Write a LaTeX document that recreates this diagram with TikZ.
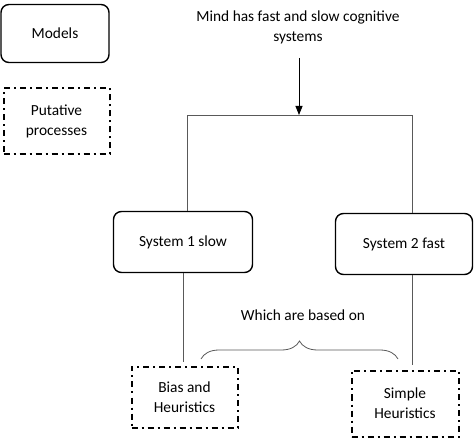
\documentclass[tikz,border=0pt]{standalone}
\usepackage{fontspec}
\setmainfont{Carlito}
\usetikzlibrary{arrows.meta,decorations.pathreplacing}
\tikzset{
  modelbox/.style={draw, line width=1.4pt, rounded corners=8pt, align=center},
  processbox/.style={draw, line width=2pt, dash pattern=on 6pt off 4pt on 2pt off 4pt, align=center},
  link/.style={draw=black!65, line width=0.8pt}
}
\begin{document}
\begin{tikzpicture}[x=1pt,y=-1pt,font=\fontsize{15.4}{20}\selectfont]
            \useasboundingbox (0,0) rectangle (474,438);
            % legend
            \node[modelbox, minimum width=108pt, minimum height=58pt] (models) at (55,33.5) {Models};
            \node[processbox, minimum width=106pt, minimum height=66pt] (putative) at (56.5,121.5) {Putative\\processes};
            % top statement
            \node[align=center] (mind) at (298,27) {Mind has fast and slow cognitive\\systems};
            \coordinate (arrowtop) at (299,58);
            \coordinate (splitL) at (187,115);
            \coordinate (splitR) at (412,115);
            \coordinate (splitM) at (299,115);
            % the two systems
            \node[modelbox, minimum width=139pt, minimum height=61pt] (sys1) at (183,242) {System 1 slow};
            \node[modelbox, minimum width=137pt, minimum height=61pt] (sys2) at (404,244) {System 2 fast};
            \node (based) at (303,315) {Which are based on};
            \node[processbox, minimum width=106pt, minimum height=61pt] (bias) at (184.5,397) {Bias and\\Heuristics};
            \node[processbox, minimum width=107pt, minimum height=66pt] (simple) at (405,403.5) {Simple\\Heuristics};
            % connectors
            \draw[link, -{Triangle[width=7pt,length=9pt]}, draw=black] (arrowtop) -- (splitM);
            \draw[link] (splitL |- sys1.north) -- (splitL) -- (splitR) -- (splitR |- sys2.north);
            \draw[link, shorten >=3pt] (sys1.south) -- (sys1.south |- bias.north);
            \draw[link, shorten >=5pt] (splitR |- sys2.south) -- (splitR |- simple.north);
            \coordinate (braceL) at (201,359);
            \coordinate (braceR) at (398,359);
            \draw[link, decorate, decoration={brace, amplitude=18pt}] (braceL) -- (braceR);
        \end{tikzpicture}
\end{document}
